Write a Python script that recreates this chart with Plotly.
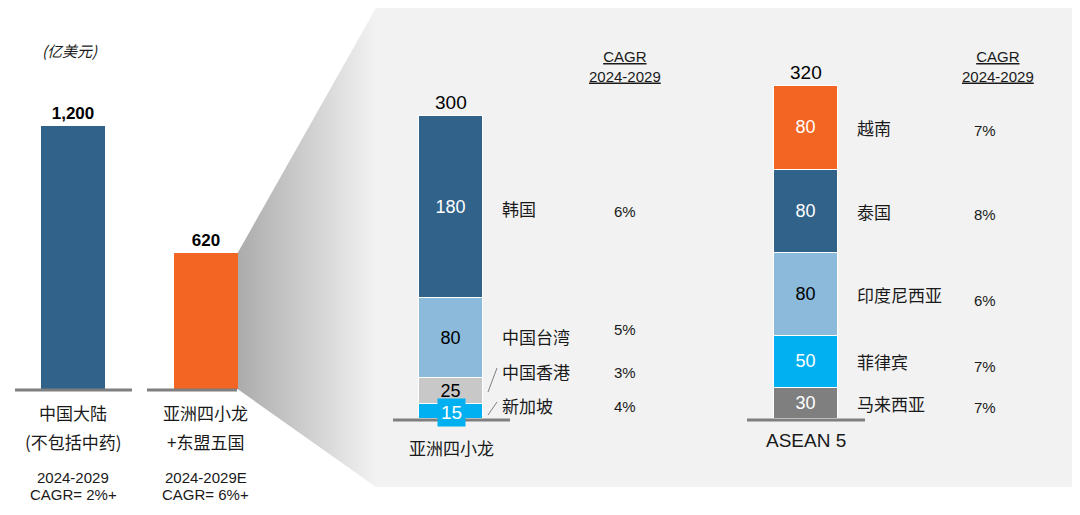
import plotly.graph_objects as go

# ---- data ----
main_regions = ['中国大陆', '亚洲四小龙+东盟五国']
main_values = [1200, 620]
main_names = ['中国大陆', '亚洲四小龙']
main_names2 = ['(不包括中药)', '+东盟五国']
main_period = ['2024-2029', '2024-2029E']
main_cagr = ['CAGR= 2%+', 'CAGR= 6%+']

tigers = ['新加坡', '中国香港', '中国台湾', '韩国']          # bottom -> top
tigers_values = [15, 25, 80, 180]
tigers_cagr = ['4%', '3%', '5%', '6%']

asean = ['马来西亚', '菲律宾', '印度尼西亚', '泰国', '越南']  # bottom -> top
asean_values = [30, 50, 80, 80, 80]
asean_cagr = ['7%', '7%', '6%', '8%', '7%']

# ---- style ----
# the page body has an 8px margin, so the figure is drawn 8px in from the corner
OFF = 8
W, H = 1080 - OFF, 515 - OFF
DARK = '#30628a'
ORANGE = '#f26522'
LIGHT = '#8bbadb'
LGRAY = '#c8c8c8'
CYAN = '#00b0f0'
DGRAY = '#7f7f7f'
PANEL = '#f2f2f2'
LAT = 'Liberation Sans, Arial, sans-serif'
CJK = 'Noto Sans CJK SC, sans-serif'

tigers_colors = [CYAN, LGRAY, LIGHT, DARK]
tigers_txt = ['white', 'black', 'black', 'white']
asean_colors = [DGRAY, CYAN, LIGHT, DARK, ORANGE]
asean_txt = ['white', 'white', 'black', 'white', 'white']


# screen pixel -> paper
def fx(px):
    return (px - OFF) / W


def fy(py):
    return 1 - (py - OFF) / H


# pixel geometry of the three panels
L_X0, L_STEP, L_BARW = 73, 132.5, 64     # first bar centre, spacing, bar width
L_BASE, L_SCALE, L_TOP = 389, 0.219, 1400
M_BASE, M_SCALE, M_TOP = 419, 1.01, 380
R_BASE, R_SCALE, R_TOP = 419, 1.04, 380
L_DOM = (40, 240)

fig = go.Figure()

# orange bar top-right corner (derived from the data)
bar_right = L_X0 + L_STEP + L_BARW / 2
bar_top = L_BASE - main_values[1] * L_SCALE

# gradient wedge on the full-page helper axis
fig.add_trace(go.Scatter(
    x=[bar_right, 376, 376, bar_right], y=[bar_top, 8, 487, L_BASE],
    fill='toself', mode='lines', line=dict(width=0),
    fillgradient=dict(type='horizontal',
                      colorscale=[[0, '#ababab'], [1, PANEL]]),
    xaxis='x', yaxis='y', hoverinfo='skip', showlegend=False))

# left bars
fig.add_trace(go.Bar(
    x=main_regions, y=main_values, width=L_BARW / L_STEP,
    marker=dict(color=[DARK, ORANGE], line=dict(width=0)),
    texttemplate='<b>%{y:,}</b>', textposition='outside', constraintext='none',
    textfont=dict(family=LAT, size=17, color='black'), cliponaxis=False,
    xaxis='x2', yaxis='y2', showlegend=False, hoverinfo='skip'))

# middle stacked bar
for name, val, col, tc in zip(tigers, tigers_values, tigers_colors, tigers_txt):
    fig.add_trace(go.Bar(
        x=['亚洲四小龙'], y=[val], name=name, width=0.8,
        marker=dict(color=col, line=dict(color='white', width=1)),
        text=[str(val) if val > 20 else ''], textposition='inside',
        insidetextanchor='middle', constraintext='none',
        textfont=dict(family=LAT, size=18, color=tc),
        xaxis='x3', yaxis='y3', showlegend=False, hoverinfo='skip'))

# right stacked bar
for name, val, col, tc in zip(asean, asean_values, asean_colors, asean_txt):
    fig.add_trace(go.Bar(
        x=['ASEAN 5'], y=[val], name=name, width=0.8,
        marker=dict(color=col, line=dict(color='white', width=1)),
        text=[str(val)], textposition='inside',
        insidetextanchor='middle', constraintext='none',
        textfont=dict(family=LAT, size=18, color=tc),
        xaxis='x4', yaxis='y4', showlegend=False, hoverinfo='skip'))

ann = []


def note(text, px, py, size=15, family=LAT, color='#1a1a1a', xanchor='center', **kw):
    ann.append(dict(text=text, x=fx(px), y=fy(py), xref='paper', yref='paper',
                    xanchor=xanchor, yanchor='middle', showarrow=False,
                    font=dict(family=family, size=size, color=color, **kw.pop('font', {})),
                    **kw))


note('<i>(亿美元)</i>', 70, 51, size=15, family=CJK)

for reg, n1, n2, per, cg in zip(main_regions, main_names, main_names2, main_period, main_cagr):
    for txt, py, fam, sz in ((n1, 412, CJK, 17), (n2, 441, CJK, 17),
                             (per, 477, LAT, 15), (cg, 494, LAT, 15)):
        ann.append(dict(text=txt, x=reg, xref='x2', y=fy(py), yref='paper',
                        showarrow=False, yanchor='middle',
                        font=dict(family=fam, size=sz, color='#1a1a1a')))

# totals
ann.append(dict(text=str(sum(tigers_values)), x='亚洲四小龙', xref='x3',
                y=sum(tigers_values), yref='y3', yanchor='bottom', yshift=1,
                showarrow=False, font=dict(family=LAT, size=19, color='black')))
ann.append(dict(text=str(sum(asean_values)), x='ASEAN 5', xref='x4',
                y=sum(asean_values), yref='y4', yanchor='bottom', yshift=1,
                showarrow=False, font=dict(family=LAT, size=19, color='black')))

# small "15" label box
ann.append(dict(text=str(tigers_values[0]), x='亚洲四小龙', xref='x3',
                y=tigers_values[0] / 2, yref='y3', yshift=-1, showarrow=False,
                bgcolor=CYAN, borderpad=3,
                font=dict(family=LAT, size=19, color='white')))

# bottom labels
note('亚洲四小龙', 451, 447, size=17, family=CJK)
note('ASEAN 5', 806, 440, size=19)

# CAGR headers
for cx in (625, 998):
    note('CAGR<br>2024-2029', cx, 66, size=15, color='#1a1a1a',
         font=dict(lineposition='under'))

# middle labels
tiger_label_py = [405, 371, 336, 208]
tiger_cagr_py = [406, 372, 329, 211]
for nm, cg, ly, cy in zip(tigers, tigers_cagr, tiger_label_py, tiger_cagr_py):
    note(nm, 500, ly, size=17, family=CJK, xanchor='left')
    note(cg, 625, cy, size=15, color='#1a1a1a')

# right labels at segment middles
cum = 0
cagr_shift = [4, 5, 6, 3, 3]
for nm, val, cg, sh in zip(asean, asean_values, asean_cagr, cagr_shift):
    mid = cum + val / 2
    cum += val
    ann.append(dict(text=nm, x=fx(855), xref='paper', y=mid, yref='y4',
                    xanchor='left', showarrow=False,
                    font=dict(family=CJK, size=17, color='#1a1a1a')))
    ann.append(dict(text=cg, x=fx(998), xref='paper', y=mid, yref='y4',
                    yshift=-sh, showarrow=False,
                    font=dict(family=LAT, size=15, color='#1a1a1a')))

shapes = [
    dict(type='rect', xref='x', yref='y', x0=376, x1=1075, y0=8, y1=487,
         fillcolor=PANEL, line=dict(width=0), layer='below'),
    # base lines
    dict(type='line', xref='x', yref='y', x0=15, x1=132, y0=L_BASE + 1, y1=L_BASE + 1,
         line=dict(color=DGRAY, width=3), layer='above'),
    dict(type='line', xref='x', yref='y', x0=147, x1=237, y0=L_BASE + 1, y1=L_BASE + 1,
         line=dict(color=DGRAY, width=3), layer='above'),
    dict(type='line', xref='x', yref='y', x0=393, x1=510, y0=M_BASE + 1, y1=M_BASE + 1,
         line=dict(color=DGRAY, width=3), layer='above'),
    dict(type='line', xref='x', yref='y', x0=747, x1=865, y0=R_BASE + 1, y1=R_BASE + 1,
         line=dict(color=DGRAY, width=3), layer='above'),
    # leader strokes
    dict(type='line', xref='x', yref='y', x0=488, x1=497, y0=392, y1=368,
         line=dict(color=DGRAY, width=1), layer='above'),
    dict(type='line', xref='x', yref='y', x0=488, x1=497, y0=415, y1=402,
         line=dict(color=DGRAY, width=1), layer='above'),
]

hidden = dict(visible=False, fixedrange=True)
l_range = [(L_DOM[0] - L_X0) / L_STEP, (L_DOM[1] - L_X0) / L_STEP]
fig.update_layout(
    width=W, height=H, autosize=False,
    margin=dict(l=0, r=0, t=0, b=0),
    paper_bgcolor='white', plot_bgcolor='rgba(0,0,0,0)',
    barmode='stack', bargap=0,
    xaxis=dict(domain=[0, 1], range=[OFF, OFF + W], **hidden),
    yaxis=dict(domain=[0, 1], range=[OFF + H, OFF], **hidden),
    xaxis2=dict(domain=[fx(L_DOM[0]), fx(L_DOM[1])], range=l_range, anchor='y2', **hidden),
    yaxis2=dict(domain=[fy(L_BASE), fy(L_BASE - L_TOP * L_SCALE)], range=[0, L_TOP],
                anchor='x2', **hidden),
    xaxis3=dict(domain=[fx(411), fx(491)], range=[-0.5, 0.5], anchor='y3', **hidden),
    yaxis3=dict(domain=[fy(M_BASE), fy(M_BASE - M_TOP * M_SCALE)], range=[0, M_TOP],
                anchor='x3', **hidden),
    xaxis4=dict(domain=[fx(766), fx(846)], range=[-0.5, 0.5], anchor='y4', **hidden),
    yaxis4=dict(domain=[fy(R_BASE), fy(R_BASE - R_TOP * R_SCALE)], range=[0, R_TOP],
                anchor='x4', **hidden),
    annotations=ann, shapes=shapes, showlegend=False,
)

fig.write_html('out.html')
